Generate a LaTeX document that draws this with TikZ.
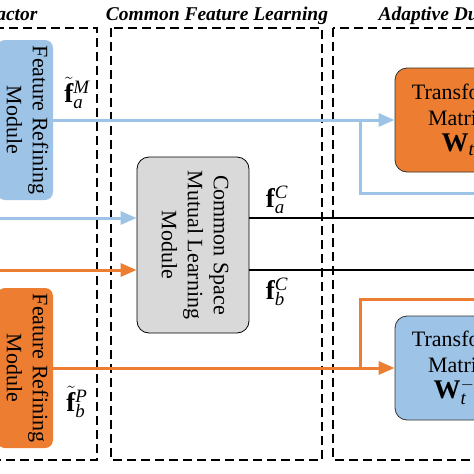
\documentclass[tikz,border=0pt]{standalone}
\usepackage{fontspec}
\setmainfont{Liberation Serif}
\usepackage{graphicx}
\usetikzlibrary{arrows.meta}
\definecolor{lblue}{HTML}{9DC3E6}
\definecolor{lorange}{HTML}{ED7D31}
\definecolor{lgray}{HTML}{D9D9D9}
\newcommand{\vtext}[1]{\rotatebox{-90}{\begin{tabular}{@{}c@{}}#1\end{tabular}}}

\begin{document}
\begin{tikzpicture}[x=1pt,y=-1pt,
		module/.style={rounded corners=8pt,inner sep=0pt,font=\fontsize{22}{26}\selectfont},
		title/.style={font=\fontsize{19.5}{22}\selectfont\bfseries\itshape},
		lab/.style={font=\fontsize{27}{30}\selectfont},
		dashbox/.style={line width=1.8pt,dash pattern=on 9pt off 5pt},
		bline/.style={lblue,line width=3pt},
		oline/.style={lorange,line width=3pt},
		kline/.style={black,line width=2.8pt},
		arrowtip/.style={-{Triangle[length=16pt,width=13pt]}}]
	\clip (0,0) rectangle (474,474);
	\foreach \xa/\xb in {-10/97,111/322,333/490}{
			\draw[dashbox] (\xa,28) rectangle (\xb,460);
		}
	\node[title,anchor=base east] (ttlA) at (41,20) {actor};
	\node[title,anchor=base] (ttlB) at (217,20) {Common Feature Learning};
	\node[title,anchor=base west] (ttlC) at (375,20) {Adaptive Du};
	\node[module,fill=lblue,minimum width=56pt,minimum height=160pt] (frmA) at (25,120) {\vtext{Feature Refining\\Module}};
	\node[module,fill=lorange,minimum width=56pt,minimum height=160pt] (frmB) at (25,368) {\vtext{Feature Refining\\Module}};
	\node[module,draw=black,fill=lgray,line width=0.8pt,rounded corners=12pt,minimum width=112pt,minimum height=176pt] (cslm) at (193,245) {\vtext{Common Space\\Mutual Learning\\Module}};
	\node[module,draw=black!80,fill=lorange,line width=0.8pt,rounded corners=12pt,minimum width=126pt,minimum height=104pt,align=center] (tmA) at (458,120) {Transform\\Matrix\\\fontsize{27}{30}\selectfont$\mathbf{W}_{\mathit{t}}$};
	\node[module,draw=black!80,fill=lblue,line width=0.8pt,rounded corners=12pt,minimum width=126pt,minimum height=104pt,align=center] (tmB) at (458,368) {Transform\\Matrix\\\fontsize{27}{30}\selectfont$\mathbf{W}_{\mathit{t}}^{-1}$};
	\node[lab] (fam) at (77,93) {$\tilde{\mathbf{f}}_{\mathit{a}}^{\mathit{M}}$};
	\node[lab] (fbp) at (77,402) {$\tilde{\mathbf{f}}_{\mathit{b}}^{\mathit{P}}$};
	\node[lab] (fac) at (277,200) {$\mathbf{f}_{\mathit{a}}^{\mathit{C}}$};
	\node[lab] (fbc) at (277,292) {$\mathbf{f}_{\mathit{b}}^{\mathit{C}}$};
	\coordinate (inA) at (-5,218);
	\coordinate (inB) at (-5,270);
	\coordinate (outC) at (480,218);
	\coordinate (outD) at (480,270);
	\coordinate (brA) at (360,120);
	\coordinate (outA) at (480,193);
	\coordinate (brB) at (360,368);
	\coordinate (outB) at (480,299);
	\draw[bline,arrowtip] (frmA) -- (tmA);
	\draw[bline] (brA) |- (outA);
	\draw[bline,arrowtip] (inA) -- (inA -| cslm.west);
	\draw[oline,arrowtip] (inB) -- (inB -| cslm.west);
	\draw[kline] (cslm.east |- outC) -- (outC);
	\draw[kline] (cslm.east |- outD) -- (outD);
	\draw[oline,arrowtip] (frmB) -- (tmB);
	\draw[oline] (brB) |- (outB);
\end{tikzpicture}
\end{document}
